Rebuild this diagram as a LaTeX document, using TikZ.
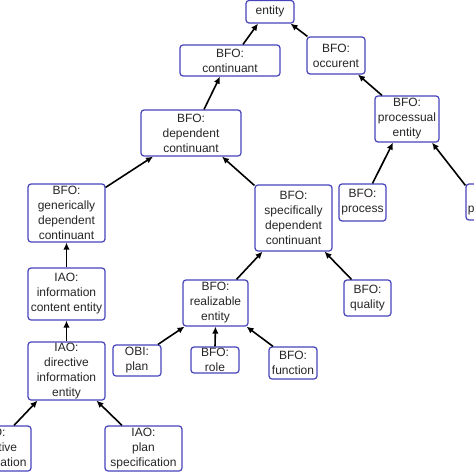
\documentclass[tikz,border=0pt]{standalone}
\usepackage{fontspec}
\setmainfont{Liberation Sans}
\usetikzlibrary{arrows.meta,calc}
\definecolor{boxblue}{RGB}{72,68,188}
\tikzset{
  box/.style={draw=boxblue, line width=1.2pt, rounded corners=3pt, fill=white, inner sep=0pt},
  txt/.style={align=center, inner sep=0pt, font=\fontsize{12}{15}\selectfont, text=black!85},
  arr/.style={-{Latex[length=7pt,width=6.5pt]}, line width=1.6pt, black}
}
\newcommand{\bx}[6]{%
  \node[box, minimum width=#4pt, minimum height=#5pt] (#1) at (#2,#3) {};
  \node[txt] (#1-t) at (#1) {#6};}
\begin{document}
\begin{tikzpicture}[x=1pt,y=-1pt]
\useasboundingbox (0,0) rectangle (474,474);
\clip (0,0) rectangle (474,474);
\fill[white] (0,0) rectangle (474,474);
\bx{ent}{270}{11.75}{48}{22.5}{entity}
\bx{cont}{230}{60.5}{100}{31}{BFO:\\continuant}
\bx{occ}{336}{55.5}{58}{37}{BFO:\\occurent}
\bx{dep}{191}{133}{100}{46}{BFO:\\dependent\\continuant}
\bx{proc}{407}{119}{64}{46}{BFO:\\processual\\entity}
\bx{gen}{66.5}{213}{77}{58}{BFO:\\generically\\dependent\\continuant}
\bx{spec}{293.5}{218}{77}{66}{BFO:\\specifically\\dependent\\continuant}
\bx{pcs}{362.5}{202.5}{47}{37}{BFO:\\process}
\bx{pbd}{515.5}{202}{99}{36}{BFO:\\process boundary}
\bx{ice}{66.5}{294}{77}{52}{IAO:\\information\\content entity}
\bx{real}{215.5}{303}{65}{46}{BFO:\\realizable\\entity}
\bx{qual}{367.5}{298}{47}{36}{BFO:\\quality}
\bx{dir}{66.5}{371}{77}{58}{IAO:\\directive\\information\\entity}
\bx{plan}{137}{360.5}{48}{31}{OBI:\\plan}
\bx{role}{215}{360}{48}{26}{BFO:\\role}
\bx{func}{293}{363}{48}{32}{BFO:\\function}
\bx{obj}{-6.5}{448.5}{75}{45}{IAO:\\objective\\specification}
\bx{psp}{143.5}{448.5}{77}{45}{IAO:\\plan\\specification}
% connectors
\draw[arr] ($(cont.north)+(13,0)$) -- ($(ent.south)+(-12,0)$);
\draw[arr] ($(occ.north west)+(1,0)$) -- ($(ent.south east)+(-4,0)$);
\draw[arr] ($(dep.north)+(13,0)$) -- ($(cont.south)+(-10,0)$);
\draw[arr] ($(proc.north)+(-25,0)$) -- ($(occ.south)+(22,0)$);
\draw[arr] ($(gen.north east)+(0,4)$) -- ($(dep.south)+(-38,0)$);
\draw[arr] ($(spec.north west)+(0,1)$) -- ($(dep.south)+(31,0)$);
\draw[arr] ($(pcs.north)+(10,0)$) -- ($(proc.south)+(-14,0)$);
\draw[arr] ($(pbd.north west)+(0,2)$) -- ($(proc.south)+(25,0)$);
\draw[arr] (ice.north) -- (gen.south);
\draw[arr] ($(real.north)+(21,0)$) -- ($(spec.south)+(-31,0)$);
\draw[arr] ($(qual.north)+(-16,0)$) -- ($(spec.south)+(31,0)$);
\draw[arr] (dir.north) -- (ice.south);
\draw[arr] ($(plan.north)+(21,0)$) -- ($(real.south)+(-31,0)$);
\draw[arr] (role.north) -- (real.south);
\draw[arr] ($(func.north)+(-20,0)$) -- ($(real.south)+(31,0)$);
\draw[arr] ($(obj.north)+(20.5,0)$) -- ($(dir.south)+(-29,0)$);
\draw[arr] ($(psp.north)+(-21.5,0)$) -- ($(dir.south)+(30,0)$);
\end{tikzpicture}
\end{document}
